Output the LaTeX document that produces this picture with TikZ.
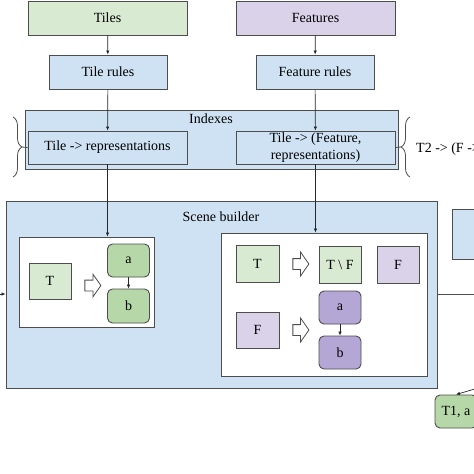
\documentclass[tikz,border=0pt]{standalone}
\usepackage{fontspec}
\setmainfont{Liberation Serif}
\usetikzlibrary{arrows.meta,shapes.arrows,decorations.pathreplacing}
\definecolor{lgreen}{HTML}{D9EAD3}
\definecolor{mgreen}{HTML}{B6D7A8}
\definecolor{lpurple}{HTML}{D9D2E9}
\definecolor{mpurple}{HTML}{B4A7D6}
\definecolor{lblue}{HTML}{CFE2F3}
\definecolor{edge}{HTML}{4D4D4D}
\begin{document}
\begin{tikzpicture}[x=1pt,y=-1pt,
  box/.style={draw=edge,line width=0.9pt,minimum width=#1},
  box/.default=42pt,
  rbox/.style={box,rounded corners=5pt},
  hollow/.style={single arrow,draw=edge,line width=0.8pt,fill=white,inner sep=5pt,minimum height=16pt,single arrow head extend=#1,single arrow tip angle=110},
  link/.style={draw=black!85,line width=0.7pt,-{Latex[length=4pt,width=3.5pt]}},
  every node/.style={inner sep=0pt,font=\fontsize{14}{17}\selectfont}]
\useasboundingbox (0,0) rectangle (474,474);
\clip (0,0) rectangle (474,474);
\node [box=159pt,minimum height=34pt,fill=lgreen] (tiles) at (107.5,18) {Tiles};
\node [box=159pt,minimum height=34pt,fill=lpurple] (features) at (315.5,18) {Features};
\node [box=118pt,minimum height=34pt,fill=lblue] (tilerules) at (108,72) {Tile rules};
\node [box=118pt,minimum height=34pt,fill=lblue] (featrules) at (315,72) {Feature rules};
\node [box=373pt,minimum height=59pt,fill=lblue] (indexes) at (211.5,139.5) {};
\node (indexlabel) at (211,119) {Indexes};
\node [box=159pt,minimum height=33pt,fill=lblue] (tilerep) at (107.5,147.5) {Tile -> representations};
\node [box=159pt,minimum height=33pt,fill=lblue,align=center] (featrep) at (315.5,147.5) {Tile -> (Feature,\\representations)};
\node [anchor=west] (t2) at (416,149) {T2 -> (F -> (a, b))};
\node [box=431pt,minimum height=187pt,fill=lblue] (scene) at (221.5,294.5) {};
\node (scenelabel) at (221,217) {Scene builder};
\node [box=135pt,minimum height=90pt,fill=white] (leftpane) at (86.5,282) {};
\node [box=206pt,minimum height=143pt,fill=white] (rightpane) at (324,304.5) {};
\node [box=42pt,minimum height=36pt,fill=lgreen] (lt) at (50,281) {T};
\node [hollow=6pt] (larrow) at (91,285.5) {};
\node [rbox=43pt,minimum height=33pt,fill=mgreen] (ta) at (128.5,260.5) {a};
\node [rbox=43pt,minimum height=34pt,fill=mgreen] (tb) at (128.5,306) {b};
\node [box=43pt,minimum height=37pt,fill=lgreen] (rt) at (257.5,263.5) {T};
\node [hollow=6.5pt] (rarrowa) at (299,264) {};
\node [box=42pt,minimum height=37pt,fill=lgreen] (rtf) at (340,264.5) {T \textbackslash{} F};
\node [box=42pt,minimum height=37pt,fill=lpurple] (rf) at (398,264.5) {F};
\node [box=43pt,minimum height=36pt,fill=lpurple] (lf) at (257.5,330) {F};
\node [hollow=6.5pt] (rarrowb) at (299,330) {};
\node [rbox=42pt,minimum height=33pt,fill=mpurple] (fa) at (340,307.5) {a};
\node [rbox=42pt,minimum height=33pt,fill=mpurple] (fb) at (340,352.5) {b};
\node [box=78pt,minimum height=50pt,fill=lblue] (outbox) at (491,234) {};
\node [rbox=44pt,minimum height=33pt,fill=mgreen] (t1a) at (456,411.5) {T1, a};
\coordinate (feedin) at (-6,294);
\coordinate (feedout) at (480,294);
\coordinate (t1src) at (478,388);
\coordinate (lbrace) at (13,117);
\coordinate (rbrace) at (410,117);
\draw [link] (tiles) -- (tilerules);
\draw [link] (features) -- (featrules);
\draw [link] (tilerules) -- (tilerep);
\draw [link] (featrules) -- (featrep);
\draw [link] (tilerep.south) -- (tilerep.south |- leftpane.north);
\draw [link] (featrep.south) -- (featrep.south |- rightpane.north);
\draw [link] (ta) -- (tb);
\draw [link] (fa) -- (fb);
\draw [link] (feedin) -- (feedin -| scene.west);
\draw [draw=edge,line width=0.9pt] (feedin -| scene.east) -- (feedout);
\draw [link] (t1src) -- (t1a.north);
\draw [edge,line width=0.8pt,decorate,decoration={brace,amplitude=9pt}] (lbrace) -- ++(0,60) coordinate (lbraceend);
\draw [edge,line width=0.8pt] (22,147) -- (tilerep.west);
\draw [edge,line width=0.8pt,decorate,decoration={brace,amplitude=9pt}] (rbrace |- lbraceend) -- (rbrace);
\draw [edge,line width=0.8pt] (401,147) -- (featrep.east);
\end{tikzpicture}
\end{document}
